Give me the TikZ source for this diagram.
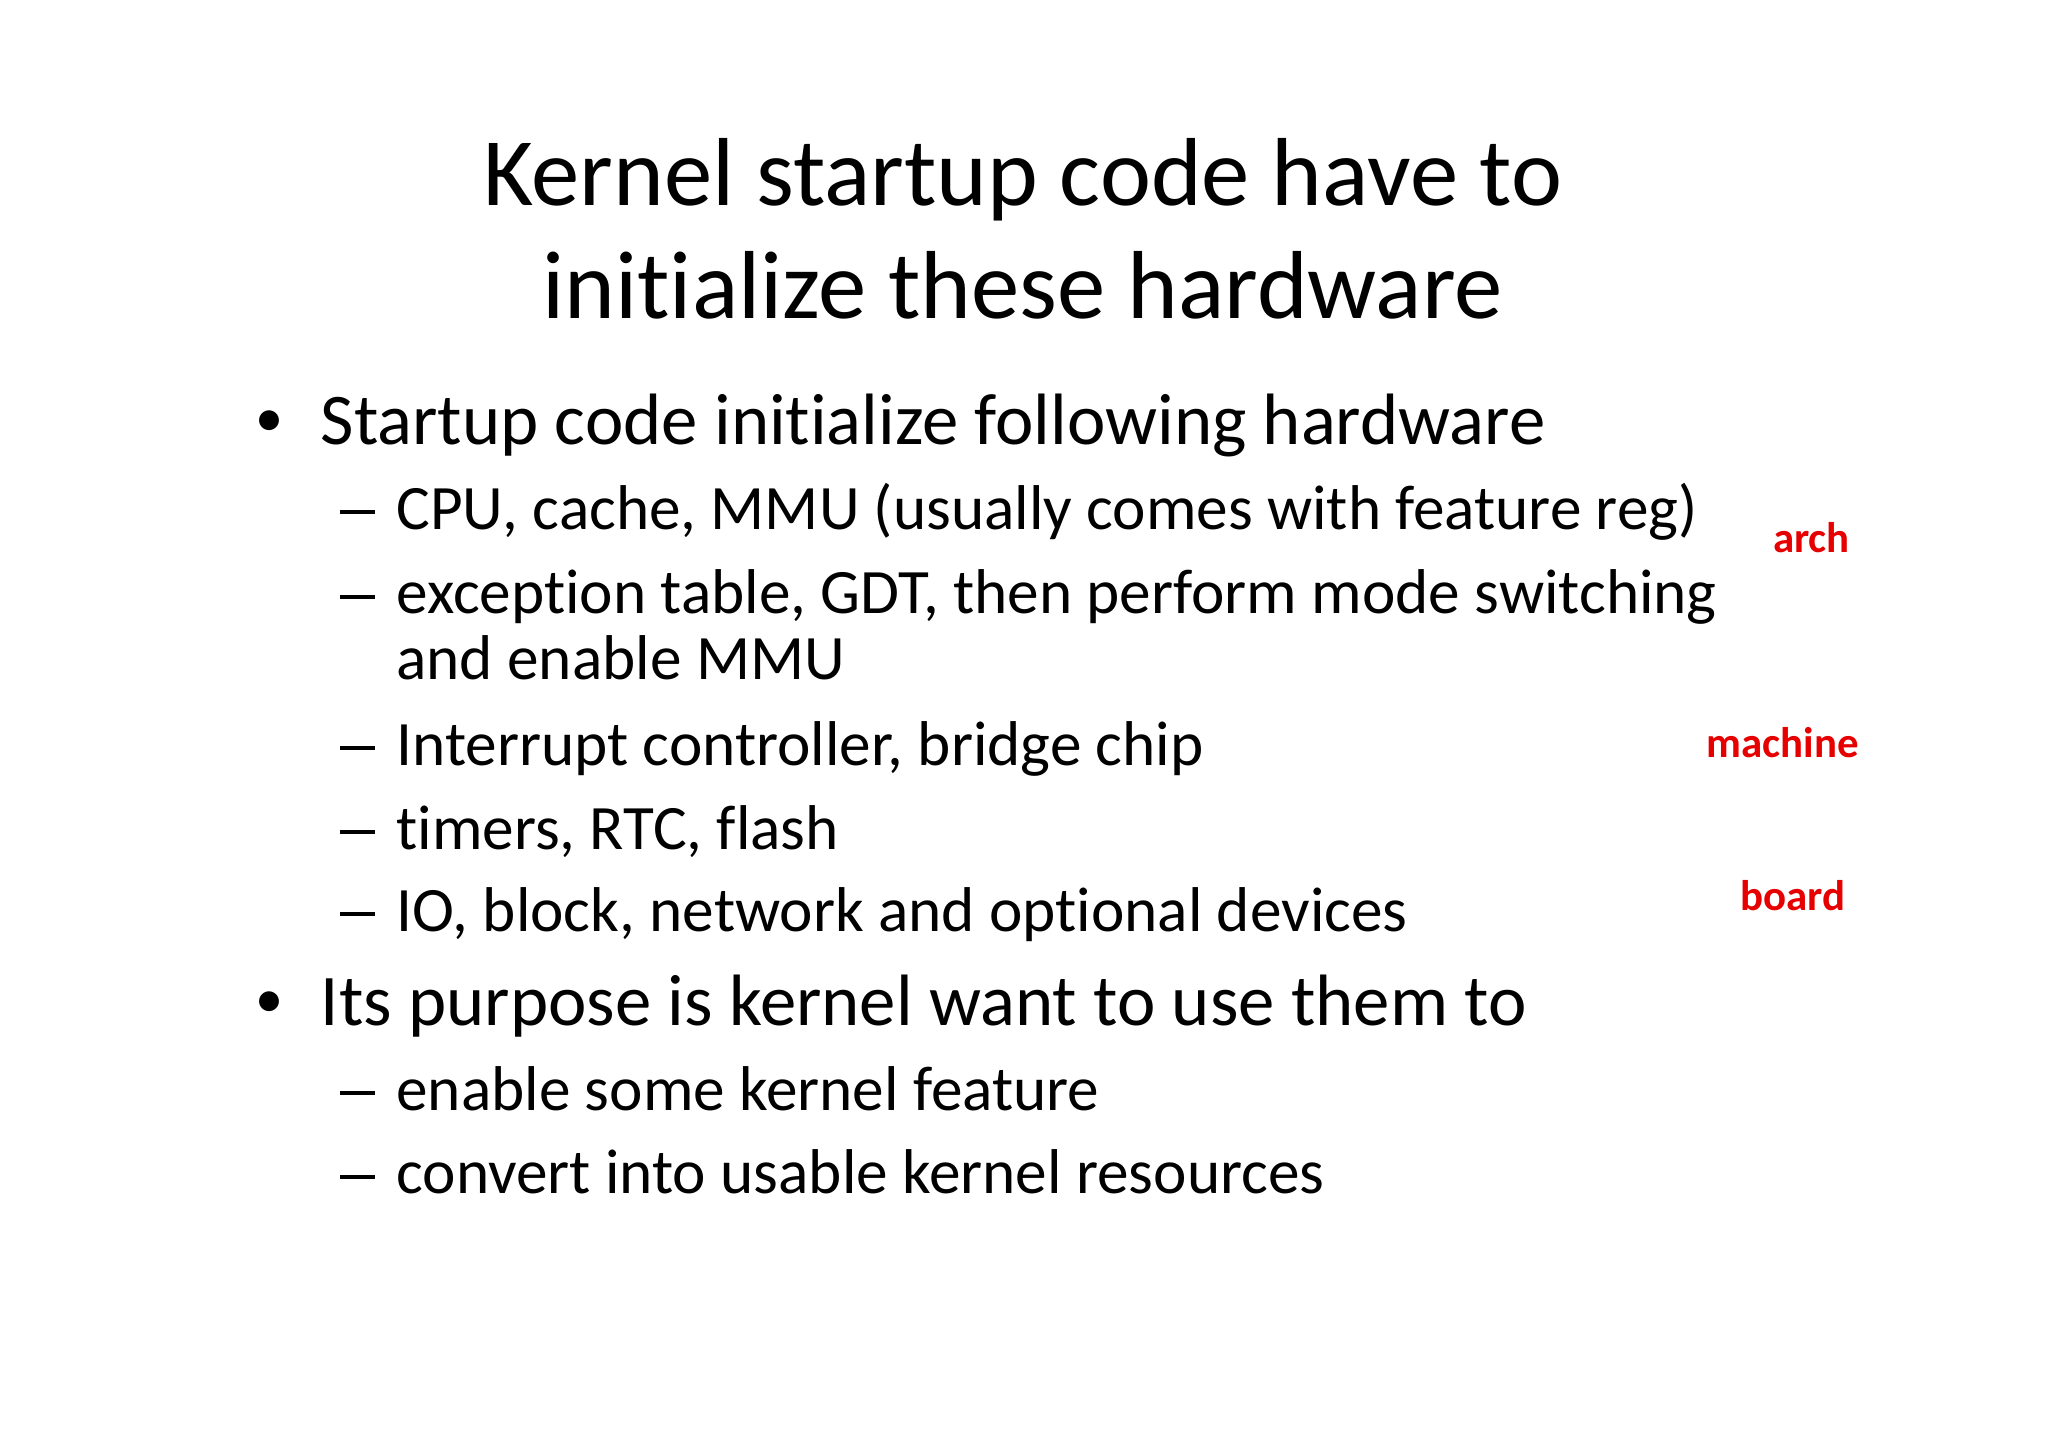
\documentclass[tikz,border=0pt]{standalone}
\usepackage{fontspec}
\setmainfont{Carlito}[Ligatures=CommonOff]
\begin{document}
\begin{tikzpicture}[x=0.013061cm,y=-0.013061cm,
  t/.style={anchor=base west,inner sep=0pt},
  lone/.style={t,font=\fontsize{20.7}{24}\selectfont},
  ltwo/.style={t,font=\fontsize{18}{21}\selectfont},
  red/.style={t,font=\bfseries\fontsize{12.2}{14}\selectfont,text={rgb,255:red,230;green,0;blue,0}}]
\useasboundingbox (0,0) rectangle (1568,1108);
\node[anchor=base,inner sep=0pt,font=\fontsize{27.5}{32}\selectfont] (t1) at (783,157) {Kernel startup code have to};
\node[anchor=base,inner sep=0pt,font=\fontsize{27.5}{32}\selectfont] (t2) at (783,244) {initialize these hardware};
\node[t,font=\fontsize{16}{20}\selectfont] (b1) at (195,334) {•};
\node[lone] (b1t) at (245,340) {Startup code initialize following hardware};
\foreach \y/\s [count=\i] in {405/{CPU, cache, MMU (usually comes with feature reg)},470/{exception table, GDT, then perform mode switching},586/{Interrupt controller, bridge chip},650/{timers, RTC, flash},713/{IO, block, network and optional devices},850/{enable some kernel feature},914/{convert into usable kernel resources}}{
  \node[ltwo] (d\i) at (260,\y) {\rule[0.24em]{0.55em}{0.06em}};
  \node[ltwo] (s\i) at (303,\y) {\s};
}
\node[ltwo] (s2b) at (303,520) {and enable MMU};
\node[t,font=\fontsize{16}{20}\selectfont] (b2) at (195,779) {•};
\node[lone] (b2t) at (245,785) {Its purpose is kernel want to use them to};
\node[red] (arch) at (1357,423) {arch};
\node[red] (mach) at (1306,580) {machine};
\node[red] (board) at (1332,697) {board};
\end{tikzpicture}
\end{document}
